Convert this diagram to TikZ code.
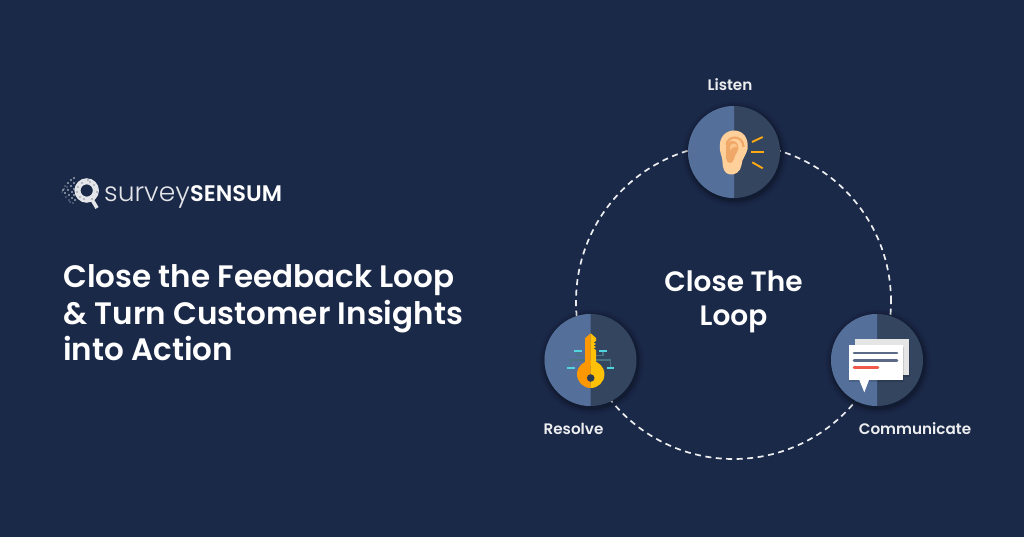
\documentclass[tikz,border=0pt]{standalone}
\usepackage{fontspec}
\setmainfont{Poppins}
\newfontfamily\headfont{Poppins Medium}
\newfontfamily\lightfont{Poppins Light}
\newfontfamily\boldfont{Poppins SemiBold}
\definecolor{bgc}{HTML}{1B2949}
\definecolor{halfL}{HTML}{54709A}
\definecolor{halfR}{HTML}{344560}
\definecolor{earA}{HTML}{FFD09A}
\definecolor{earB}{HTML}{F0A868}
\definecolor{rayc}{HTML}{FFA912}
\definecolor{keyL}{HTML}{FF9800}
\definecolor{keyR}{HTML}{FFC107}
\definecolor{wire}{HTML}{4A7480}
\definecolor{cyanb}{HTML}{4FD5E0}
\definecolor{barc}{HTML}{5A6A86}
\definecolor{redb}{HTML}{F0584A}
\tikzset{
  heading/.style={anchor=base west,inner sep=0,text=white,font=\boldfont\fontsize{31}{33}\selectfont},
  centretext/.style={anchor=base,inner sep=0,text=white,font=\boldfont\fontsize{28}{30}\selectfont},
  caption/.style={anchor=base,inner sep=0,text=white!92!bgc,font=\boldfont\fontsize{15.2}{17}\selectfont},
  ring/.style={circle,draw=white!92!bgc,line width=1.7pt,dash pattern=on 6pt off 4.5pt,minimum size=315pt,inner sep=0},
  ray/.style={rayc,line width=1.9pt},
  wirel/.style={wire,line width=1.5pt},
  cyanbar/.style={cyanb,line width=2.2pt},
  bar/.style={barc,line width=2.8pt,line cap=round},
}
\newcommand{\badge}[3]{%
  \foreach \r/\o in {53/.05,51/.07,49/.10,47.5/.12}{\fill[black,opacity=\o] (#1+1,#2+2) circle[radius=\r];}
  \node[circle,minimum size=92pt,inner sep=0] (#3) at (#1,#2) {};
  \fill[halfR] (#1,#2) circle[radius=46];
  \fill[halfL] (#1,#2+46) arc[start angle=90,end angle=270,radius=46] -- cycle;
}
\begin{document}
\begin{tikzpicture}[x=1pt,y=-1pt]
\useasboundingbox (0,0) rectangle (1024,537);
\fill[bgc] (0,0) rectangle (1024,537);

% ring
\node[ring] (loop) at (733.5,301.5) {};

% badges
\badge{734}{152}{listen}
\badge{590.5}{360}{resolve}
\badge{877}{360}{communicate}

% ear
\fill[earA] (720,150) .. controls (718,136) and (727,130.5) .. (734,130.5)
  .. controls (743,130.5) and (749,138) .. (747.5,149)
  .. controls (746,156) and (742,158) .. (741.5,165)
  .. controls (740.5,172) and (735,175) .. (730,174.5)
  .. controls (724,174) and (722.5,167) .. (722.5,162) .. controls (722.5,157) and (720.5,155) .. (720,150) -- cycle;
\draw[earB,line width=2.2pt] (726.5,145) .. controls (727,135.5) and (743,134) .. (743.5,147);
\fill[earB] (726,148) .. controls (726,140) and (735,138) .. (738,145)
  .. controls (740,151) and (735,153) .. (734,159)
  .. controls (733,165) and (726,164) .. (726,158) -- cycle;
\fill[earA!70!earB] (730,146) .. controls (732,142) and (737,143) .. (737,147) .. controls (736,146) and (733,147) .. (730,150) -- cycle;
\draw[ray] (752,142) -- (762.7,137);
\draw[ray] (751.3,152) -- (764,152);
\draw[ray] (752.3,162.3) -- (762.7,168.3);

% key
\draw[wirel] (578,351) -- (578,355.5) -- (586,355.5);
\draw[wirel] (603,351) -- (603,355.5) -- (595,355.5);
\draw[wirel] (570.5,368) -- (570.5,360) -- (586,360);
\draw[wirel] (610.5,368) -- (610.5,360) -- (595,360);
\draw[cyanbar] (574.3,351) -- (581.7,351);
\draw[cyanbar] (599,351) -- (606.7,351);
\draw[cyanbar] (566.7,368) -- (574.7,368);
\draw[cyanbar] (606.7,368) -- (614.3,368);
\fill[keyL] (590.7,333.3) -- (585.2,338) -- (585.2,365) -- (590.7,365) -- cycle;
\fill[keyR] (590.7,333.3) -- (596,338) -- (596,341) -- (593.5,342.5) -- (596,344) -- (593.5,345.5) -- (596,347) -- (593.5,348.5) -- (596,350) -- (596,365) -- (590.7,365) -- cycle;
\fill[keyL] (590.7,388) arc[start angle=90,end angle=270,radius=13.7] -- cycle;
\fill[keyR] (590.7,388) arc[start angle=90,end angle=-90,radius=13.7] -- cycle;
\fill[halfR!85!black] (590.7,378) circle[radius=3.8];

% speech bubbles
\fill[black,opacity=.12] (855,341) rectangle (910,377);
\fill[black!10] (855,339.3) rectangle (908.7,374.7);
\fill[black,opacity=.12] (848.7,347) rectangle (904,381.5);
\fill[white] (848.7,345.3) rectangle (902.7,380.3);
\fill[white] (859.3,380) -- (869,380) -- (864.3,392.3) -- cycle;
\draw[bar] (854,353) -- (897,353);
\draw[bar] (854,360.3) -- (897,360.3);
\draw[redb,line width=2.8pt,line cap=round] (854,367.7) -- (878,367.7);

% captions
\node[caption] (capL) at (730,91) {Listen};
\node[caption] (capR) at (573.5,434) {Resolve};
\node[caption] (capC) at (915,434) {Communicate};
\node[centretext] (mid1) at (733.5,291) {Close The};
\node[centretext] (mid2) at (733.5,325) {Loop};

% headline
\node[heading] (h1) at (63,287) {Close the Feedback Loop};
\node[heading] (h2) at (63,324) {\& Turn Customer Insights};
\node[heading] (h3) at (63,360) {into Action};

% logo
\draw[white!88!bgc,line width=6pt] (86.7,190.5) circle[radius=9.2];
\draw[white!88!bgc,line width=3.6pt] (91,198) -- (97,208);
\foreach \a/\b/\c in {63/190/.8,65/186/.7,65/193/.9,66/197/.7,68/183/.8,68/190/.9,69/195/.8,69/200/.7,71/180/.9,71/186/.8,72/192/.9,72/198/.8,73/203/.7,67/187/.6,64/189/.6,70/202/.6,74/178/.8,74/183/.9,74/189/.9,74/195/.9,75/200/.9,62/192/.5}
  {\fill[white!85!bgc] (\a,\b) circle[radius=\c];}
\foreach \a/\b in {78/187,82/183,90/182,94/185,97/192,92/199,80/197,84/199,77/192,88/180}
  {\fill[bgc] (\a,\b) circle[radius=.6];}
\node[anchor=base west,inner sep=0,text=white!88!bgc,font=\lightfont\fontsize{26.6}{28}\selectfont] (logoA) at (104,202) {survey};
\node[anchor=base west,inner sep=0,text=white,font=\boldfont\fontsize{22.5}{24}\selectfont] (logoB) at (190,202) {SENSUM};
\end{tikzpicture}
\end{document}
